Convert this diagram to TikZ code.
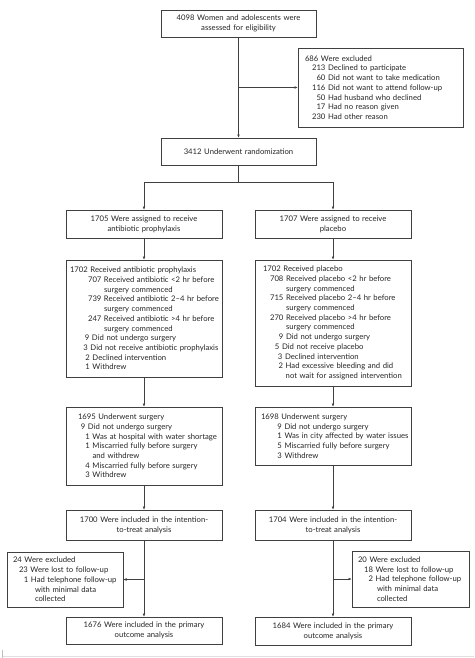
\documentclass[tikz,border=0pt]{standalone}
\usepackage{fontspec}
\setmainfont{Lato}
\usetikzlibrary{arrows.meta}
\newcommand{\itm}[3]{\hspace*{#1pt}\llap{#2\ }\mbox{#3}}
\newcommand{\cnt}[2]{\hspace*{#1pt}\mbox{#2}}
\tikzset{
  boxst/.style={draw=black!75, line width=0.6pt, fill=white, text=black!85,
    font=\fontsize{7.7}{9.7}\selectfont, inner ysep=0pt},
  arr/.style={draw=black!75, line width=0.6pt, -{Latex[length=3.2pt,width=2.8pt]}},
  ln/.style={draw=black!75, line width=0.6pt}
}
\newcommand{\bx}[7]{%
  \node[boxst, minimum width={#4pt-#2pt}, minimum height={#5pt-#3pt},
    text width={#4pt-#2pt-2*#6pt}, inner xsep=#6pt, align=left]
    (#1) at ({(#2+#4)/2},{(#3+#5)/2}) {#7};}
\newcommand{\cbx}[6]{%
  \node[boxst, minimum width={#4pt-#2pt}, minimum height={#5pt-#3pt},
    text width={#4pt-#2pt-6pt}, inner xsep=3pt, align=center]
    (#1) at ({(#2+#4)/2},{(#3+#5)/2}) {#6};}
\begin{document}
\begin{tikzpicture}[x=1pt,y=-1pt]
\fill[white] (0,0) rectangle (474,658);
\useasboundingbox (0,0) rectangle (474,658);
% top
\cbx{b1}{161}{10}{316}{37}{4098 Women and adolescents were\\assessed for eligibility}
\bx{ex}{298}{48}{463}{127}{7}{\mbox{686 Were excluded}\\
\itm{23}{213}{Declined to participate}\\
\itm{23}{60}{Did not want to take medication}\\
\itm{23}{116}{Did not want to attend follow-up}\\
\itm{23}{50}{Had husband who declined}\\
\itm{23}{17}{Had no reason given}\\
\itm{23}{230}{Had other reason}}
\cbx{rand}{161}{138}{316}{165}{3412 Underwent randomization}
% assignment
\cbx{a1}{66}{210}{222}{238}{1705 Were assigned to receive\\antibiotic prophylaxis}
\cbx{p1}{255}{210}{411}{238}{1707 Were assigned to receive\\placebo}
% received
\bx{a2}{66}{260}{222}{377}{4}{\mbox{1702 Received antibiotic prophylaxis}\\
\itm{34}{707}{Received antibiotic <2 hr before}\\
\cnt{34}{surgery commenced}\\
\itm{34}{739}{Received antibiotic 2--4 hr before}\\
\cnt{34}{surgery commenced}\\
\itm{34}{247}{Received antibiotic >4 hr before}\\
\cnt{34}{surgery commenced}\\
\itm{22}{9}{Did not undergo surgery}\\
\itm{20.5}{3}{Did not receive antibiotic prophylaxis}\\
\itm{22.5}{2}{Declined intervention}\\
\itm{22.5}{1}{Withdrew}}
\bx{p2}{255}{260}{411}{386}{8}{\mbox{1702 Received placebo}\\
\itm{23}{708}{Received placebo <2 hr before}\\
\cnt{23}{surgery commenced}\\
\itm{23}{715}{Received placebo 2--4 hr before}\\
\cnt{23}{surgery commenced}\\
\itm{23}{270}{Received placebo >4 hr before}\\
\cnt{23}{surgery commenced}\\
\itm{23}{9}{Did not undergo surgery}\\
\itm{19}{5}{Did not receive placebo}\\
\itm{22}{3}{Declined intervention}\\
\itm{22.7}{2}{Had excessive bleeding and did}\\
\cnt{22.7}{not wait for assigned intervention}}
% surgery
\bx{a3}{66}{407}{222}{485}{12}{\mbox{1695 Underwent surgery}\\
\itm{10}{9}{Did not undergo surgery}\\
\itm{14.5}{1}{Was at hospital with water shortage}\\
\itm{14.5}{1}{Miscarried fully before surgery}\\
\cnt{14.5}{and withdrew}\\
\itm{14.5}{4}{Miscarried fully before surgery}\\
\itm{14.5}{3}{Withdrew}}
\bx{p3}{255}{407}{411}{465}{6}{\mbox{1698 Underwent surgery}\\
\itm{23.5}{9}{Did not undergo surgery}\\
\itm{23.5}{1}{Was in city affected by water issues}\\
\itm{23.5}{5}{Miscarried fully before surgery}\\
\itm{23.5}{3}{Withdrew}}
% ITT
\cbx{a4}{66}{510}{222}{540}{1700 Were included in the intention-\\to-treat analysis}
\cbx{p4}{255}{510}{411}{540}{1704 Were included in the intention-\\to-treat analysis}
% exclusions
\bx{aex}{7}{552}{123}{607}{6}{\mbox{24 Were excluded}\\
\itm{17.5}{23}{Were lost to follow-up}\\
\itm{18}{1}{Had telephone follow-up}\\
\cnt{22}{with minimal data}\\
\cnt{22}{collected}}
\bx{pex}{352}{551}{469}{607}{6}{\mbox{20 Were excluded}\\
\itm{17.7}{18}{Were lost to follow-up}\\
\itm{17.7}{2}{Had telephone follow-up}\\
\cnt{19}{with minimal data}\\
\cnt{19}{collected}}
% primary
\cbx{a5}{66}{617}{222}{644}{1676 Were included in the primary\\outcome analysis}
\cbx{p5}{255}{617}{411}{645}{1684 Were included in the primary\\outcome analysis}
% connectors
\draw[arr] (b1) -- (rand);
\coordinate (j1) at (b1.south |- ex.west);
\draw[arr] (j1) -- (ex.west);
\coordinate (sl) at (144,182);
\coordinate (sr) at (333,182);
\coordinate (sm) at (rand.south |- sl);
\draw[ln] (rand.south) -- (sm);
\draw[ln] (sl) -- (sr);
\draw[arr] (sl) -- (a1.north);
\draw[arr] (sr) -- (p1.north);
\draw[arr] (a1) -- (a2);
\draw[arr] (a2) -- (a3);
\draw[arr] (a3) -- (a4);
\draw[arr] (a4) -- (a5);
\draw[arr] (p1) -- (p2);
\draw[arr] (p2) -- (p3);
\draw[arr] (p3) -- (p4);
\draw[arr] (p4) -- (p5);
\coordinate (ja) at (a4.south |- aex.east);
\coordinate (jp) at (p4.south |- pex.west);
\draw[arr] (ja) -- (aex.east);
\draw[arr] (jp) -- (pex.west);
% faint frame rule at bottom
\draw[black!12, line width=0.8pt] (2,656.5) -- (474,656.5);
\draw[black!25, line width=0.6pt] (2,650) -- (2,658);
\end{tikzpicture}
\end{document}
